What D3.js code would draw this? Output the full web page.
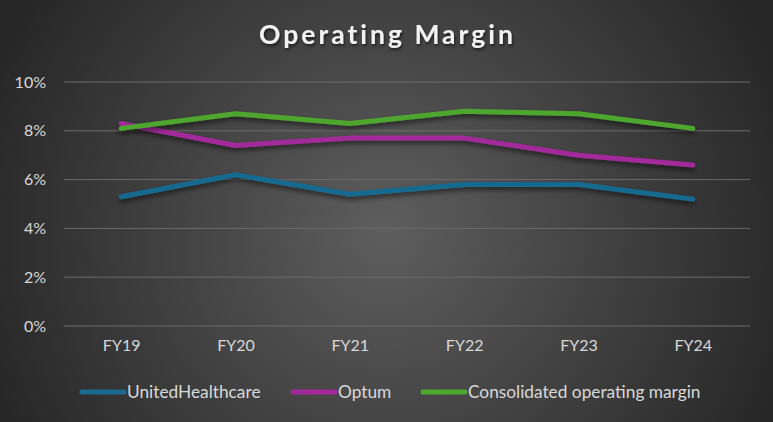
<!DOCTYPE html>
<html>
<head>
<meta charset="utf-8">
<script src="https://cdn.jsdelivr.net/npm/d3@7"></script>
<style>
  html, body { margin: 0; padding: 0; background: #2a2a2a; }
  svg { display: block; }
</style>
</head>
<body>
<div id="chart"></div>
<script>
const years = ["FY19", "FY20", "FY21", "FY22", "FY23", "FY24"];
const unitedHealthcare = [5.3, 6.2, 5.4, 5.8, 5.8, 5.2];
const optum = [8.3, 7.4, 7.7, 7.7, 7.0, 6.6];
const consolidated = [8.1, 8.7, 8.3, 8.8, 8.7, 8.1];
const yTicks = [0, 2, 4, 6, 8, 10];

const series = [
  { name: "UnitedHealthcare", values: unitedHealthcare, color: "#196b8f" },
  { name: "Optum", values: optum, color: "#a3299b" },
  { name: "Consolidated operating margin", values: consolidated, color: "#4ea72e" }
];

const width = 773, height = 422;
const margin = { top: 82, right: 23, bottom: 96, left: 64 };
const font = "Lato, 'Open Sans', sans-serif";

const svg = d3.select("#chart").append("svg")
  .attr("width", width)
  .attr("height", height);

const defs = svg.append("defs");
const grad = defs.append("radialGradient")
  .attr("id", "bg")
  .attr("gradientUnits", "userSpaceOnUse")
  .attr("cx", width / 2).attr("cy", height / 2 + 20).attr("r", 430);
grad.append("stop").attr("offset", "0%").attr("stop-color", "#5e5e5e");
grad.append("stop").attr("offset", "100%").attr("stop-color", "#262626");

const shadow = defs.append("filter").attr("id", "shadow")
  .attr("x", "-10%").attr("y", "-50%").attr("width", "120%").attr("height", "200%");
shadow.append("feDropShadow")
  .attr("dx", 0).attr("dy", 3).attr("stdDeviation", 2.5)
  .attr("flood-color", "#000").attr("flood-opacity", 0.55);

const titleShadow = defs.append("filter").attr("id", "tshadow")
  .attr("x", "-10%").attr("y", "-30%").attr("width", "120%").attr("height", "160%");
titleShadow.append("feDropShadow")
  .attr("dx", 1).attr("dy", 2).attr("stdDeviation", 1.5)
  .attr("flood-color", "#000").attr("flood-opacity", 0.6);

svg.append("rect").attr("width", width).attr("height", height).attr("fill", "url(#bg)");

// title
svg.append("text")
  .attr("x", width / 2 + 1)
  .attr("y", 44)
  .attr("text-anchor", "middle")
  .attr("fill", "#f2f2f2")
  .attr("font-family", font)
  .attr("font-weight", "bold")
  .attr("font-size", 26.5)
  .attr("letter-spacing", 3)
  .attr("filter", "url(#tshadow)")
  .text("Operating Margin");

const x = d3.scalePoint()
  .domain(years)
  .range([margin.left, width - margin.right])
  .padding(0.5);

const y = d3.scaleLinear()
  .domain([0, 10])
  .range([height - margin.bottom, margin.top]);

// gridlines
svg.append("g")
  .selectAll("line")
  .data(yTicks)
  .join("line")
  .attr("x1", margin.left)
  .attr("x2", width - margin.right)
  .attr("y1", d => y(d))
  .attr("y2", d => y(d))
  .attr("stroke", "#6b6b6b")
  .attr("stroke-width", 1);

// y axis labels
const yAxis = svg.append("g")
  .attr("transform", `translate(${margin.left},0)`)
  .call(d3.axisLeft(y).tickValues(yTicks).tickFormat(d => d + "%").tickSize(0).tickPadding(18));
yAxis.select(".domain").remove();
yAxis.selectAll("text")
  .attr("fill", "#d9d9d9")
  .attr("font-family", font)
  .attr("font-size", 16);

// x axis labels
const xAxis = svg.append("g")
  .attr("transform", `translate(0,${height - margin.bottom})`)
  .call(d3.axisBottom(x).tickSize(0).tickPadding(14));
xAxis.select(".domain").remove();
xAxis.selectAll("text")
  .attr("fill", "#d9d9d9")
  .attr("font-family", font)
  .attr("font-size", 16);

// lines
const line = d3.line()
  .x((d, i) => x(years[i]))
  .y(d => y(d));

svg.append("g")
  .selectAll("path")
  .data(series)
  .join("path")
  .attr("d", d => line(d.values))
  .attr("fill", "none")
  .attr("stroke", d => d.color)
  .attr("stroke-width", 5)
  .attr("stroke-linecap", "round")
  .attr("stroke-linejoin", "round")
  .attr("filter", "url(#shadow)");

// legend
const legendX = [82, 293, 423];
const legend = svg.append("g").attr("transform", "translate(0,392)");
const item = legend.selectAll("g")
  .data(series)
  .join("g")
  .attr("transform", (d, i) => `translate(${legendX[i]},0)`);
item.append("line")
  .attr("x1", 0).attr("x2", 42)
  .attr("stroke", d => d.color)
  .attr("stroke-width", 5)
  .attr("stroke-linecap", "round");
item.append("text")
  .attr("x", 45)
  .attr("dy", "0.35em")
  .attr("fill", "#d9d9d9")
  .attr("font-family", font)
  .attr("font-size", 17.3)
  .text(d => d.name);
</script>
</body>
</html>
